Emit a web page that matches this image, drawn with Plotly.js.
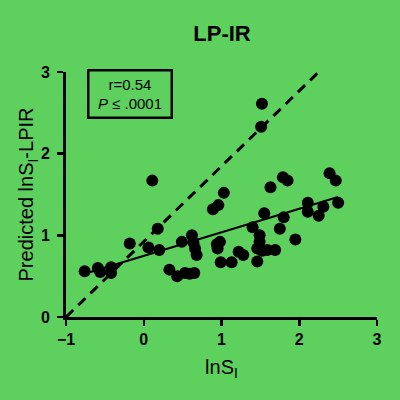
<!DOCTYPE html>
<html>
<head>
<meta charset="utf-8">
<script src="https://cdn.plot.ly/plotly-3.0.1.min.js"></script>
<style>
html,body{margin:0;padding:0;background:#5dd05e;}
#chart{width:400px;height:400px;outline:2px solid #3a3a3a;outline-offset:-2px;}
</style>
</head>
<body>
<div id="chart"></div>
<script>
// observed data (lnS_I vs predicted lnS_I-LPIR)
var xVals = [1.52,1.51,0.11,1.03,0.96,0.89,1.63,1.79,1.85,2.39,2.47,2.50,2.11,2.11,2.31,2.25,1.55,1.80,1.75,1.95,
             1.40,1.49,1.49,1.46,1.52,1.59,1.69,1.46,1.13,0.99,1.22,1.28,0.98,0.95,0.94,0.62,0.64,0.66,0.68,0.49,
             0.18,0.06,0.20,-0.18,0.33,0.43,0.53,0.65,0.59,-0.76,-0.59,-0.56,-0.42,-0.42];
var yVals = [2.61,2.33,1.67,1.52,1.37,1.32,1.59,1.71,1.67,1.76,1.67,1.40,1.40,1.29,1.35,1.24,1.27,1.22,1.08,0.95,
             1.10,1.00,0.92,0.84,0.81,0.82,0.82,0.68,0.67,0.67,0.80,0.76,0.92,0.84,0.89,1.00,0.91,0.84,0.76,0.92,
             1.08,0.85,0.82,0.90,0.58,0.50,0.54,0.54,0.53,0.56,0.60,0.55,0.61,0.54];
// line of identity (dashed) and regression line
var identityX = [-1, 2.25];
var identityY = [0, 3];
var fitX = [-0.76, 2.5];
var fitY = [0.53, 1.47];
// ticks
var xTicks = [-1, 0, 1, 2, 3];
var xTickText = ['\u22121', '0', '1', '2', '3'];
var yTicks = [0, 1, 2, 3];
var yTickText = ['0', '1', '2', '3'];

var font = 'Arial, "Liberation Sans", sans-serif';
var traces = [
  {x: identityX, y: identityY, mode: 'lines', line: {color: '#000', width: 3, dash: '10px,7px'}, hoverinfo: 'skip'},
  {x: fitX, y: fitY, mode: 'lines', line: {color: '#000', width: 2}, hoverinfo: 'skip'},
  {x: xVals, y: yVals, mode: 'markers', marker: {color: '#000', size: 12}, cliponaxis: false}
];
var layout = {
  width: 400, height: 400,
  paper_bgcolor: '#5dd05e', plot_bgcolor: '#5dd05e',
  showlegend: false,
  margin: {l: 66, r: 23, t: 72, b: 83},
  font: {family: font, color: '#000'},
  title: {text: '<b>LP-IR</b>', font: {size: 22, family: font, color: '#000'}, x: 0.555, xanchor: 'center', y: 0.917, yanchor: 'middle'},
  xaxis: {
    range: [-1, 3], tickvals: xTicks, ticktext: xTickText,
    showgrid: false, zeroline: false, showline: true, linecolor: '#000', linewidth: 3,
    ticks: 'outside', ticklen: 6, tickwidth: 2.5, tickcolor: '#000',
    tickfont: {size: 16, family: font, color: '#000', weight: 'bold'},
    title: {text: 'lnS<sub>I</sub>', font: {size: 20, family: font, color: '#000'}, standoff: 13}
  },
  yaxis: {
    range: [0, 3], tickvals: yTicks, ticktext: yTickText,
    showgrid: false, zeroline: false, showline: true, linecolor: '#000', linewidth: 3,
    ticks: 'outside', ticklen: 6, tickwidth: 2.5, tickcolor: '#000', ticklabelstandoff: 4,
    tickfont: {size: 16, family: font, color: '#000', weight: 'bold'},
    title: {text: 'Predicted lnS<sub>I</sub>-LPIR', font: {size: 20, family: font, color: '#000'}, standoff: 2}
  },
  annotations: [{
    x: -0.18, y: 2.73, xref: 'x', yref: 'y', xanchor: 'center', yanchor: 'middle',
    text: 'r=0.54<br><i>P</i> \u2264 .0001', showarrow: false, align: 'center',
    font: {size: 15, family: font, color: '#000'},
    bordercolor: '#000', borderwidth: 2.5, borderpad: 4, width: 73
  }]
};
Plotly.newPlot('chart', traces, layout, {staticPlot: true});
</script>
</body>
</html>
